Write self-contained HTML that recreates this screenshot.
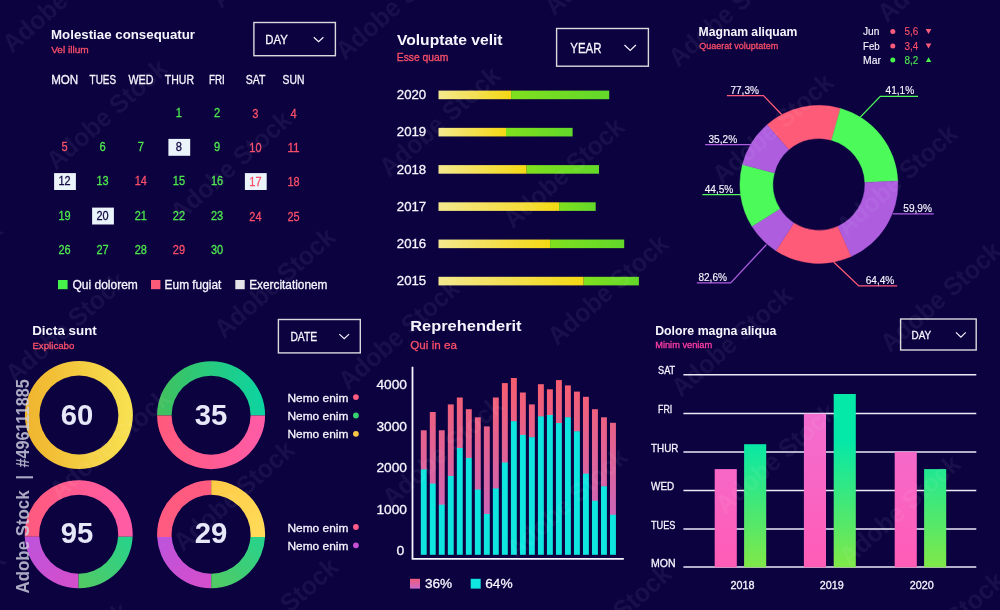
<!DOCTYPE html>
<html lang="en"><head><meta charset="utf-8"><title>Dashboard</title>
<style>
html,body{margin:0;padding:0;background:#0c0240;}
body{width:1000px;height:610px;overflow:hidden;font-family:"Liberation Sans", sans-serif;}
svg{display:block;font-family:"Liberation Sans", sans-serif;}
</style></head><body>
<svg width="1000" height="610" viewBox="0 0 1000 610">
<rect width="1000" height="610" fill="#0c0240"/>

<defs>
<linearGradient id="gy" x1="0" y1="0" x2="1" y2="0"><stop offset="0" stop-color="#f4e88e"/><stop offset="1" stop-color="#f4d814"/></linearGradient>
<linearGradient id="gg" x1="0" y1="0" x2="1" y2="0"><stop offset="0" stop-color="#80e01e"/><stop offset="1" stop-color="#62d82a"/></linearGradient>
<linearGradient id="ring1" x1="0" y1="0" x2="1" y2="0"><stop offset="0" stop-color="#f0b42e"/><stop offset="1" stop-color="#f8e252"/></linearGradient>
<linearGradient id="rgreen" x1="0" y1="0" x2="1" y2="0"><stop offset="0" stop-color="#42c05c"/><stop offset="1" stop-color="#0cd4a2"/></linearGradient>
<linearGradient id="rpink" x1="0" y1="0" x2="1" y2="0"><stop offset="0" stop-color="#ff5a7c"/><stop offset="1" stop-color="#ff5ca8"/></linearGradient>
<linearGradient id="rpurp" x1="0" y1="0.5" x2="0.5" y2="1"><stop offset="0" stop-color="#bb54dc"/><stop offset="1" stop-color="#d64ecb"/></linearGradient>
<linearGradient id="rgreenv" x1="0" y1="1" x2="1" y2="0"><stop offset="0" stop-color="#6cc44c"/><stop offset="1" stop-color="#0cd8a4"/></linearGradient>
<linearGradient id="ryel" x1="0" y1="0" x2="1" y2="1"><stop offset="0" stop-color="#ffc23c"/><stop offset="1" stop-color="#ffe464"/></linearGradient>
<linearGradient id="sbar" gradientUnits="userSpaceOnUse" x1="0" y1="378" x2="0" y2="555"><stop offset="0" stop-color="#f85e6e"/><stop offset="1" stop-color="#c068cc"/></linearGradient>
<linearGradient id="vpink" gradientUnits="userSpaceOnUse" x1="0" y1="413" x2="0" y2="567"><stop offset="0" stop-color="#f26ed0"/><stop offset="1" stop-color="#ff5cb6"/></linearGradient>
<linearGradient id="vgreen" gradientUnits="userSpaceOnUse" x1="0" y1="440" x2="0" y2="567"><stop offset="0" stop-color="#04e8a8"/><stop offset="1" stop-color="#80e848"/></linearGradient>
<linearGradient id="lgpink" x1="0" y1="0" x2="0" y2="1"><stop offset="0" stop-color="#f25c7c"/><stop offset="1" stop-color="#c868c8"/></linearGradient>
</defs>

<text x="51.00" y="38.80" font-size="13.3" fill="#f5f5fd" font-weight="bold" textLength="144.00" lengthAdjust="spacingAndGlyphs">Molestiae consequatur</text>
<text x="51.20" y="53.30" font-size="9.5" fill="#fa4f69" stroke="#fa4f69" stroke-width="0.3" textLength="37.60" lengthAdjust="spacingAndGlyphs">Vel illum</text>
<rect x="253.90" y="22.50" width="81.50" height="33.20" fill="none" stroke="#dcd9de" stroke-width="1.4"/>
<text x="265.30" y="43.60" font-size="12" fill="#f5f5fd" stroke="#f5f5fd" stroke-width="0.3" textLength="22.50" lengthAdjust="spacingAndGlyphs">DAY</text>
<polyline points="313.80,37.20 318.60,41.60 323.40,37.20" fill="none" stroke="#f5f5fd" stroke-width="1.2"/>
<text x="51.20" y="84.20" font-size="12" fill="#f5f5fd" stroke="#f5f5fd" stroke-width="0.3" textLength="27.00" lengthAdjust="spacingAndGlyphs">MON</text>
<text x="89.60" y="84.20" font-size="12" fill="#f5f5fd" stroke="#f5f5fd" stroke-width="0.3" textLength="26.40" lengthAdjust="spacingAndGlyphs">TUES</text>
<text x="128.40" y="84.20" font-size="12" fill="#f5f5fd" stroke="#f5f5fd" stroke-width="0.3" textLength="25.00" lengthAdjust="spacingAndGlyphs">WED</text>
<text x="164.80" y="84.20" font-size="12" fill="#f5f5fd" stroke="#f5f5fd" stroke-width="0.3" textLength="29.20" lengthAdjust="spacingAndGlyphs">THUR</text>
<text x="209.00" y="84.20" font-size="12" fill="#f5f5fd" stroke="#f5f5fd" stroke-width="0.3" textLength="15.80" lengthAdjust="spacingAndGlyphs">FRI</text>
<text x="245.80" y="84.20" font-size="12" fill="#f5f5fd" stroke="#f5f5fd" stroke-width="0.3" textLength="19.60" lengthAdjust="spacingAndGlyphs">SAT</text>
<text x="282.60" y="84.20" font-size="12" fill="#f5f5fd" stroke="#f5f5fd" stroke-width="0.3" textLength="21.80" lengthAdjust="spacingAndGlyphs">SUN</text>
<text x="175.80" y="116.90" font-size="12.4" fill="#4ee84d" stroke="#4ee84d" stroke-width="0.3" textLength="6.20" lengthAdjust="spacingAndGlyphs">1</text>
<text x="213.90" y="116.90" font-size="12.4" fill="#4ee84d" stroke="#4ee84d" stroke-width="0.3" textLength="6.20" lengthAdjust="spacingAndGlyphs">2</text>
<text x="252.30" y="117.90" font-size="12.4" fill="#fa4f69" stroke="#fa4f69" stroke-width="0.3" textLength="6.20" lengthAdjust="spacingAndGlyphs">3</text>
<text x="290.40" y="117.90" font-size="12.4" fill="#fa4f69" stroke="#fa4f69" stroke-width="0.3" textLength="6.20" lengthAdjust="spacingAndGlyphs">4</text>
<text x="61.50" y="151.10" font-size="12.4" fill="#fa4f69" stroke="#fa4f69" stroke-width="0.3" textLength="6.20" lengthAdjust="spacingAndGlyphs">5</text>
<text x="99.50" y="151.10" font-size="12.4" fill="#4ee84d" stroke="#4ee84d" stroke-width="0.3" textLength="6.20" lengthAdjust="spacingAndGlyphs">6</text>
<text x="137.70" y="151.10" font-size="12.4" fill="#4ee84d" stroke="#4ee84d" stroke-width="0.3" textLength="6.20" lengthAdjust="spacingAndGlyphs">7</text>
<rect x="168.40" y="138.90" width="21.80" height="16.90" fill="#ecf4fb" />
<text x="175.80" y="151.10" font-size="12.4" fill="#140a44" stroke="#140a44" stroke-width="0.3" textLength="6.20" lengthAdjust="spacingAndGlyphs">8</text>
<text x="213.90" y="151.10" font-size="12.4" fill="#4ee84d" stroke="#4ee84d" stroke-width="0.3" textLength="6.20" lengthAdjust="spacingAndGlyphs">9</text>
<text x="249.30" y="152.10" font-size="12.4" fill="#fa4f69" stroke="#fa4f69" stroke-width="0.3" textLength="12.20" lengthAdjust="spacingAndGlyphs">10</text>
<text x="287.40" y="152.10" font-size="12.4" fill="#fa4f69" stroke="#fa4f69" stroke-width="0.3" textLength="12.20" lengthAdjust="spacingAndGlyphs">11</text>
<rect x="54.10" y="173.10" width="21.80" height="16.90" fill="#ecf4fb" />
<text x="58.50" y="185.30" font-size="12.4" fill="#140a44" stroke="#140a44" stroke-width="0.3" textLength="12.20" lengthAdjust="spacingAndGlyphs">12</text>
<text x="96.50" y="185.30" font-size="12.4" fill="#4ee84d" stroke="#4ee84d" stroke-width="0.3" textLength="12.20" lengthAdjust="spacingAndGlyphs">13</text>
<text x="134.70" y="185.30" font-size="12.4" fill="#fa4f69" stroke="#fa4f69" stroke-width="0.3" textLength="12.20" lengthAdjust="spacingAndGlyphs">14</text>
<text x="172.80" y="185.30" font-size="12.4" fill="#4ee84d" stroke="#4ee84d" stroke-width="0.3" textLength="12.20" lengthAdjust="spacingAndGlyphs">15</text>
<text x="210.90" y="185.30" font-size="12.4" fill="#4ee84d" stroke="#4ee84d" stroke-width="0.3" textLength="12.20" lengthAdjust="spacingAndGlyphs">16</text>
<rect x="244.90" y="173.10" width="21.80" height="16.90" fill="#ecf4fb" />
<text x="249.30" y="186.30" font-size="12.4" fill="#fa4f69" stroke="#fa4f69" stroke-width="0.3" textLength="12.20" lengthAdjust="spacingAndGlyphs">17</text>
<text x="287.40" y="186.30" font-size="12.4" fill="#fa4f69" stroke="#fa4f69" stroke-width="0.3" textLength="12.20" lengthAdjust="spacingAndGlyphs">18</text>
<text x="58.50" y="219.80" font-size="12.4" fill="#4ee84d" stroke="#4ee84d" stroke-width="0.3" textLength="12.20" lengthAdjust="spacingAndGlyphs">19</text>
<rect x="92.10" y="207.60" width="21.80" height="16.90" fill="#ecf4fb" />
<text x="96.50" y="219.80" font-size="12.4" fill="#140a44" stroke="#140a44" stroke-width="0.3" textLength="12.20" lengthAdjust="spacingAndGlyphs">20</text>
<text x="134.70" y="219.80" font-size="12.4" fill="#4ee84d" stroke="#4ee84d" stroke-width="0.3" textLength="12.20" lengthAdjust="spacingAndGlyphs">21</text>
<text x="172.80" y="219.80" font-size="12.4" fill="#4ee84d" stroke="#4ee84d" stroke-width="0.3" textLength="12.20" lengthAdjust="spacingAndGlyphs">22</text>
<text x="210.90" y="219.80" font-size="12.4" fill="#4ee84d" stroke="#4ee84d" stroke-width="0.3" textLength="12.20" lengthAdjust="spacingAndGlyphs">23</text>
<text x="249.30" y="220.80" font-size="12.4" fill="#fa4f69" stroke="#fa4f69" stroke-width="0.3" textLength="12.20" lengthAdjust="spacingAndGlyphs">24</text>
<text x="287.40" y="220.80" font-size="12.4" fill="#fa4f69" stroke="#fa4f69" stroke-width="0.3" textLength="12.20" lengthAdjust="spacingAndGlyphs">25</text>
<text x="58.50" y="254.00" font-size="12.4" fill="#4ee84d" stroke="#4ee84d" stroke-width="0.3" textLength="12.20" lengthAdjust="spacingAndGlyphs">26</text>
<text x="96.50" y="254.00" font-size="12.4" fill="#4ee84d" stroke="#4ee84d" stroke-width="0.3" textLength="12.20" lengthAdjust="spacingAndGlyphs">27</text>
<text x="134.70" y="254.00" font-size="12.4" fill="#4ee84d" stroke="#4ee84d" stroke-width="0.3" textLength="12.20" lengthAdjust="spacingAndGlyphs">28</text>
<text x="172.80" y="254.00" font-size="12.4" fill="#fa4f69" stroke="#fa4f69" stroke-width="0.3" textLength="12.20" lengthAdjust="spacingAndGlyphs">29</text>
<text x="210.90" y="254.00" font-size="12.4" fill="#4ee84d" stroke="#4ee84d" stroke-width="0.3" textLength="12.20" lengthAdjust="spacingAndGlyphs">30</text>
<rect x="58.00" y="280.00" width="9.60" height="9.20" fill="#46f14a" />
<text x="72.40" y="289.00" font-size="12.2" fill="#f5f5fd" stroke="#f5f5fd" stroke-width="0.3" textLength="65.50" lengthAdjust="spacingAndGlyphs">Qui dolorem</text>
<rect x="151.00" y="280.00" width="9.40" height="9.20" fill="#fb5a78" />
<text x="164.60" y="289.00" font-size="12.2" fill="#f5f5fd" stroke="#f5f5fd" stroke-width="0.3" textLength="56.80" lengthAdjust="spacingAndGlyphs">Eum fugiat</text>
<rect x="235.30" y="280.00" width="9.40" height="9.20" fill="#e4e4e8" />
<text x="249.20" y="289.00" font-size="12.2" fill="#f5f5fd" stroke="#f5f5fd" stroke-width="0.3" textLength="78.20" lengthAdjust="spacingAndGlyphs">Exercitationem</text>
<text x="397.00" y="45.00" font-size="14.8" fill="#f5f5fd" font-weight="bold" textLength="105.50" lengthAdjust="spacingAndGlyphs">Voluptate velit</text>
<text x="396.80" y="61.00" font-size="10.3" fill="#fa4f69" stroke="#fa4f69" stroke-width="0.3" textLength="51.60" lengthAdjust="spacingAndGlyphs">Esse quam</text>
<rect x="556.60" y="28.50" width="91.80" height="37.70" fill="none" stroke="#dcd9de" stroke-width="1.4"/>
<text x="570.30" y="52.80" font-size="14" fill="#f5f5fd" stroke="#f5f5fd" stroke-width="0.3" textLength="31.20" lengthAdjust="spacingAndGlyphs">YEAR</text>
<polyline points="624.50,45.00 630.20,50.40 635.90,45.00" fill="none" stroke="#f5f5fd" stroke-width="1.2"/>
<text x="396.80" y="99.10" font-size="13.6" fill="#f5f5fd" stroke="#f5f5fd" stroke-width="0.3" textLength="29.40" lengthAdjust="spacingAndGlyphs">2020</text>
<rect x="438.50" y="90.60" width="72.60" height="8.60" fill="url(#gy)" />
<rect x="511.10" y="90.60" width="98.10" height="8.60" fill="url(#gg)" />
<text x="396.80" y="136.35" font-size="13.6" fill="#f5f5fd" stroke="#f5f5fd" stroke-width="0.3" textLength="29.40" lengthAdjust="spacingAndGlyphs">2019</text>
<rect x="438.50" y="127.85" width="67.50" height="8.60" fill="url(#gy)" />
<rect x="506.00" y="127.85" width="66.60" height="8.60" fill="url(#gg)" />
<text x="396.80" y="173.60" font-size="13.6" fill="#f5f5fd" stroke="#f5f5fd" stroke-width="0.3" textLength="29.40" lengthAdjust="spacingAndGlyphs">2018</text>
<rect x="438.50" y="165.10" width="88.20" height="8.60" fill="url(#gy)" />
<rect x="526.70" y="165.10" width="72.30" height="8.60" fill="url(#gg)" />
<text x="396.80" y="210.80" font-size="13.6" fill="#f5f5fd" stroke="#f5f5fd" stroke-width="0.3" textLength="29.40" lengthAdjust="spacingAndGlyphs">2017</text>
<rect x="438.50" y="202.30" width="120.60" height="8.60" fill="url(#gy)" />
<rect x="559.10" y="202.30" width="36.60" height="8.60" fill="url(#gg)" />
<text x="396.80" y="248.05" font-size="13.6" fill="#f5f5fd" stroke="#f5f5fd" stroke-width="0.3" textLength="29.40" lengthAdjust="spacingAndGlyphs">2016</text>
<rect x="438.50" y="239.55" width="111.60" height="8.60" fill="url(#gy)" />
<rect x="550.10" y="239.55" width="74.10" height="8.60" fill="url(#gg)" />
<text x="396.80" y="285.30" font-size="13.6" fill="#f5f5fd" stroke="#f5f5fd" stroke-width="0.3" textLength="29.40" lengthAdjust="spacingAndGlyphs">2015</text>
<rect x="438.50" y="276.80" width="145.20" height="8.60" fill="url(#gy)" />
<rect x="583.70" y="276.80" width="55.20" height="8.60" fill="url(#gg)" />
<text x="698.60" y="36.40" font-size="12.4" fill="#f5f5fd" font-weight="bold" textLength="98.80" lengthAdjust="spacingAndGlyphs">Magnam aliquam</text>
<text x="699.20" y="48.90" font-size="9.7" fill="#fa4f69" stroke="#fa4f69" stroke-width="0.3" textLength="79.00" lengthAdjust="spacingAndGlyphs">Quaerat voluptatem</text>
<text x="863.00" y="35.30" font-size="10.8" fill="#f5f5fd" stroke="#f5f5fd" stroke-width="0.15" textLength="16.40" lengthAdjust="spacingAndGlyphs">Jun</text>
<circle cx="892.8" cy="31.50" r="2.5" fill="#ff5c7c"/>
<text x="904.50" y="35.30" font-size="10.8" fill="#fa4f69" stroke="#fa4f69" stroke-width="0.15" textLength="13.80" lengthAdjust="spacingAndGlyphs">5,6</text>
<polygon points="925.7,29.00 931.3,29.00 928.5,34.00" fill="#ff5c7c"/>
<text x="863.00" y="49.70" font-size="10.8" fill="#f5f5fd" stroke="#f5f5fd" stroke-width="0.15" textLength="16.60" lengthAdjust="spacingAndGlyphs">Feb</text>
<circle cx="892.8" cy="45.90" r="2.5" fill="#ff5c7c"/>
<text x="904.50" y="49.70" font-size="10.8" fill="#fa4f69" stroke="#fa4f69" stroke-width="0.15" textLength="13.80" lengthAdjust="spacingAndGlyphs">3,4</text>
<polygon points="925.7,43.40 931.3,43.40 928.5,48.40" fill="#ff5c7c"/>
<text x="863.00" y="63.70" font-size="10.8" fill="#f5f5fd" stroke="#f5f5fd" stroke-width="0.15" textLength="17.90" lengthAdjust="spacingAndGlyphs">Mar</text>
<circle cx="892.8" cy="59.90" r="2.5" fill="#46f14a"/>
<text x="904.50" y="63.70" font-size="10.8" fill="#4ee84d" stroke="#4ee84d" stroke-width="0.15" textLength="13.80" lengthAdjust="spacingAndGlyphs">8,2</text>
<polygon points="925.9,61.90 931.3,61.90 928.6,57.30" fill="#46f14a"/>
<path d="M767.07,124.78 A79,79 0 0 1 840.54,108.42 L831.50,140.16 A46,46 0 0 0 788.72,149.68 Z" fill="#fe5b78" stroke="#fe5b78" stroke-width="0.4"/>
<path d="M840.54,108.42 A79,79 0 0 1 897.82,180.95 L864.86,182.39 A46,46 0 0 0 831.50,140.16 Z" fill="#4cfb5a" stroke="#4cfb5a" stroke-width="0.4"/>
<path d="M897.82,180.95 A79,79 0 0 1 851.03,256.57 L837.61,226.42 A46,46 0 0 0 864.86,182.39 Z" fill="#ae5ddf" stroke="#ae5ddf" stroke-width="0.4"/>
<path d="M851.03,256.57 A79,79 0 0 1 775.87,250.65 L793.85,222.98 A46,46 0 0 0 837.61,226.42 Z" fill="#fe5b78" stroke="#fe5b78" stroke-width="0.4"/>
<path d="M775.87,250.65 A79,79 0 0 1 751.90,226.26 L779.89,208.78 A46,46 0 0 0 793.85,222.98 Z" fill="#ae5ddf" stroke="#ae5ddf" stroke-width="0.4"/>
<path d="M751.90,226.26 A79,79 0 0 1 742.42,164.62 L774.37,172.88 A46,46 0 0 0 779.89,208.78 Z" fill="#4cfb5a" stroke="#4cfb5a" stroke-width="0.4"/>
<path d="M742.42,164.62 A79,79 0 0 1 767.07,124.78 L788.72,149.68 A46,46 0 0 0 774.37,172.88 Z" fill="#ae5ddf" stroke="#ae5ddf" stroke-width="0.4"/>
<polyline points="726.90,95.60 763.50,95.60 781.60,114.50" fill="none" stroke="#fe5b78" stroke-width="1.3"/>
<polyline points="918.00,96.40 880.30,96.40 860.30,117.10" fill="none" stroke="#4cfb5a" stroke-width="1.3"/>
<polyline points="705.10,144.60 755.90,144.60" fill="none" stroke="#ae5ddf" stroke-width="1.3"/>
<polyline points="702.40,194.70 740.90,194.70" fill="none" stroke="#4cfb5a" stroke-width="1.3"/>
<polyline points="892.70,213.90 933.80,213.90" fill="none" stroke="#ae5ddf" stroke-width="1.3"/>
<polyline points="897.20,285.90 858.80,285.90 833.90,262.20" fill="none" stroke="#fe5b78" stroke-width="1.3"/>
<polyline points="696.80,282.90 730.70,282.90 766.50,244.50" fill="none" stroke="#ae5ddf" stroke-width="1.3"/>
<text x="730.40" y="94.10" font-size="10.6" fill="#f5f5fd" stroke="#f5f5fd" stroke-width="0.15" textLength="28.60" lengthAdjust="spacingAndGlyphs">77,3%</text>
<text x="885.60" y="94.10" font-size="10.6" fill="#f5f5fd" stroke="#f5f5fd" stroke-width="0.15" textLength="28.60" lengthAdjust="spacingAndGlyphs">41,1%</text>
<text x="708.50" y="143.00" font-size="10.6" fill="#f5f5fd" stroke="#f5f5fd" stroke-width="0.15" textLength="28.60" lengthAdjust="spacingAndGlyphs">35,2%</text>
<text x="704.70" y="193.20" font-size="10.6" fill="#f5f5fd" stroke="#f5f5fd" stroke-width="0.15" textLength="28.60" lengthAdjust="spacingAndGlyphs">44,5%</text>
<text x="903.30" y="212.00" font-size="10.6" fill="#f5f5fd" stroke="#f5f5fd" stroke-width="0.15" textLength="28.60" lengthAdjust="spacingAndGlyphs">59,9%</text>
<text x="865.70" y="284.20" font-size="10.6" fill="#f5f5fd" stroke="#f5f5fd" stroke-width="0.15" textLength="28.60" lengthAdjust="spacingAndGlyphs">64,4%</text>
<text x="698.40" y="281.00" font-size="10.6" fill="#f5f5fd" stroke="#f5f5fd" stroke-width="0.15" textLength="28.60" lengthAdjust="spacingAndGlyphs">82,6%</text>
<text x="32.20" y="335.00" font-size="13.2" fill="#f5f5fd" font-weight="bold" textLength="64.60" lengthAdjust="spacingAndGlyphs">Dicta sunt</text>
<text x="32.40" y="349.30" font-size="9.7" fill="#fa4f69" stroke="#fa4f69" stroke-width="0.3" textLength="42.00" lengthAdjust="spacingAndGlyphs">Explicabo</text>
<rect x="278.40" y="319.50" width="81.90" height="33.40" fill="none" stroke="#dcd9de" stroke-width="1.4"/>
<text x="290.40" y="341.00" font-size="12" fill="#f5f5fd" stroke="#f5f5fd" stroke-width="0.3" textLength="26.80" lengthAdjust="spacingAndGlyphs">DATE</text>
<polyline points="339.30,334.10 344.20,338.70 349.10,334.10" fill="none" stroke="#f5f5fd" stroke-width="1.2"/>
<path d="M24.900000000000006,415 a54,54 0 1 0 108,0 a54,54 0 1 0 -108,0 Z M39.400000000000006,415 a39.5,39.5 0 1 1 79,0 a39.5,39.5 0 1 1 -79,0 Z" fill="url(#ring1)" fill-rule="evenodd"/>
<clipPath id="c2a"><rect x="150" y="355" width="125" height="60.6"/></clipPath><clipPath id="c2b"><rect x="150" y="415.6" width="125" height="60"/></clipPath>
<path d="M157.1,415.2 a54,54 0 1 0 108,0 a54,54 0 1 0 -108,0 Z M171.6,415.2 a39.5,39.5 0 1 1 79,0 a39.5,39.5 0 1 1 -79,0 Z" fill="url(#rgreen)" fill-rule="evenodd" clip-path="url(#c2a)"/>
<path d="M157.1,415.2 a54,54 0 1 0 108,0 a54,54 0 1 0 -108,0 Z M171.6,415.2 a39.5,39.5 0 1 1 79,0 a39.5,39.5 0 1 1 -79,0 Z" fill="url(#rpink)" fill-rule="evenodd" clip-path="url(#c2b)"/>
<clipPath id="c3a"><rect x="20" y="475" width="120" height="61.7"/></clipPath><clipPath id="c3b"><rect x="20" y="536.7" width="58.5" height="60"/></clipPath><clipPath id="c3c"><rect x="78.5" y="536.7" width="60" height="60"/></clipPath>
<path d="M24.700000000000003,534.3 a54,54 0 1 0 108,0 a54,54 0 1 0 -108,0 Z M39.2,534.3 a39.5,39.5 0 1 1 79,0 a39.5,39.5 0 1 1 -79,0 Z" fill="url(#rpink)" fill-rule="evenodd" clip-path="url(#c3a)"/>
<path d="M24.700000000000003,534.3 a54,54 0 1 0 108,0 a54,54 0 1 0 -108,0 Z M39.2,534.3 a39.5,39.5 0 1 1 79,0 a39.5,39.5 0 1 1 -79,0 Z" fill="url(#rpurp)" fill-rule="evenodd" clip-path="url(#c3b)"/>
<path d="M24.700000000000003,534.3 a54,54 0 1 0 108,0 a54,54 0 1 0 -108,0 Z M39.2,534.3 a39.5,39.5 0 1 1 79,0 a39.5,39.5 0 1 1 -79,0 Z" fill="url(#rgreenv)" fill-rule="evenodd" clip-path="url(#c3c)"/>
<clipPath id="c4a"><rect x="150" y="475" width="61.2" height="62"/></clipPath><clipPath id="c4b"><rect x="211.2" y="475" width="60" height="62"/></clipPath><clipPath id="c4c"><rect x="150" y="537" width="61.2" height="60"/></clipPath><clipPath id="c4d"><rect x="211.2" y="537" width="60" height="60"/></clipPath>
<path d="M157.1,534.3 a54,54 0 1 0 108,0 a54,54 0 1 0 -108,0 Z M171.6,534.3 a39.5,39.5 0 1 1 79,0 a39.5,39.5 0 1 1 -79,0 Z" fill="#ff5a80" fill-rule="evenodd" clip-path="url(#c4a)"/>
<path d="M157.1,534.3 a54,54 0 1 0 108,0 a54,54 0 1 0 -108,0 Z M171.6,534.3 a39.5,39.5 0 1 1 79,0 a39.5,39.5 0 1 1 -79,0 Z" fill="url(#ryel)" fill-rule="evenodd" clip-path="url(#c4b)"/>
<path d="M157.1,534.3 a54,54 0 1 0 108,0 a54,54 0 1 0 -108,0 Z M171.6,534.3 a39.5,39.5 0 1 1 79,0 a39.5,39.5 0 1 1 -79,0 Z" fill="url(#rpurp)" fill-rule="evenodd" clip-path="url(#c4c)"/>
<path d="M157.1,534.3 a54,54 0 1 0 108,0 a54,54 0 1 0 -108,0 Z M171.6,534.3 a39.5,39.5 0 1 1 79,0 a39.5,39.5 0 1 1 -79,0 Z" fill="url(#rgreenv)" fill-rule="evenodd" clip-path="url(#c4d)"/>
<text x="60.80" y="424.90" font-size="30.0" fill="#e6e8f8" font-weight="bold" textLength="32.60" lengthAdjust="spacingAndGlyphs">60</text>
<text x="194.80" y="424.80" font-size="30.0" fill="#e6e8f8" font-weight="bold" textLength="32.60" lengthAdjust="spacingAndGlyphs">35</text>
<text x="60.80" y="543.10" font-size="30.0" fill="#e6e8f8" font-weight="bold" textLength="32.60" lengthAdjust="spacingAndGlyphs">95</text>
<text x="194.80" y="543.10" font-size="30.0" fill="#e6e8f8" font-weight="bold" textLength="32.60" lengthAdjust="spacingAndGlyphs">29</text>
<text x="287.40" y="401.70" font-size="11.6" fill="#f5f5fd" stroke="#f5f5fd" stroke-width="0.3" textLength="61.00" lengthAdjust="spacingAndGlyphs">Nemo enim</text>
<circle cx="355.9" cy="397.10" r="2.9" fill="#ff5c80"/>
<text x="287.40" y="420.10" font-size="11.6" fill="#f5f5fd" stroke="#f5f5fd" stroke-width="0.3" textLength="61.00" lengthAdjust="spacingAndGlyphs">Nemo enim</text>
<circle cx="355.9" cy="415.50" r="2.9" fill="#38d070"/>
<text x="287.40" y="438.40" font-size="11.6" fill="#f5f5fd" stroke="#f5f5fd" stroke-width="0.3" textLength="61.00" lengthAdjust="spacingAndGlyphs">Nemo enim</text>
<circle cx="355.9" cy="433.80" r="2.9" fill="#f6c844"/>
<text x="287.40" y="531.60" font-size="11.6" fill="#f5f5fd" stroke="#f5f5fd" stroke-width="0.3" textLength="61.00" lengthAdjust="spacingAndGlyphs">Nemo enim</text>
<circle cx="355.9" cy="527.00" r="2.9" fill="#ff5c88"/>
<text x="287.40" y="549.90" font-size="11.6" fill="#f5f5fd" stroke="#f5f5fd" stroke-width="0.3" textLength="61.00" lengthAdjust="spacingAndGlyphs">Nemo enim</text>
<circle cx="355.9" cy="545.30" r="2.9" fill="#c850d2"/>
<text x="410.20" y="331.30" font-size="15.4" fill="#f5f5fd" font-weight="bold" textLength="111.40" lengthAdjust="spacingAndGlyphs">Reprehenderit</text>
<text x="410.30" y="348.70" font-size="11.5" fill="#fa4f69" stroke="#fa4f69" stroke-width="0.3" textLength="46.60" lengthAdjust="spacingAndGlyphs">Qui in ea</text>
<rect x="420.80" y="430.30" width="5.90" height="39.60" fill="url(#sbar)" />
<rect x="420.80" y="469.40" width="5.90" height="85.40" fill="#0fe6e0" />
<rect x="429.81" y="412.00" width="5.90" height="72.10" fill="url(#sbar)" />
<rect x="429.81" y="483.60" width="5.90" height="71.20" fill="#0fe6e0" />
<rect x="438.82" y="430.30" width="5.90" height="74.90" fill="url(#sbar)" />
<rect x="438.82" y="504.70" width="5.90" height="50.10" fill="#0fe6e0" />
<rect x="447.83" y="404.40" width="5.90" height="72.10" fill="url(#sbar)" />
<rect x="447.83" y="476.00" width="5.90" height="78.80" fill="#0fe6e0" />
<rect x="456.84" y="397.50" width="5.90" height="51.00" fill="url(#sbar)" />
<rect x="456.84" y="448.00" width="5.90" height="106.80" fill="#0fe6e0" />
<rect x="465.85" y="409.20" width="5.90" height="49.20" fill="url(#sbar)" />
<rect x="465.85" y="457.90" width="5.90" height="96.90" fill="#0fe6e0" />
<rect x="474.86" y="417.30" width="5.90" height="72.70" fill="url(#sbar)" />
<rect x="474.86" y="489.50" width="5.90" height="65.30" fill="#0fe6e0" />
<rect x="483.87" y="426.40" width="5.90" height="88.10" fill="url(#sbar)" />
<rect x="483.87" y="514.00" width="5.90" height="40.80" fill="#0fe6e0" />
<rect x="492.88" y="397.50" width="5.90" height="91.40" fill="url(#sbar)" />
<rect x="492.88" y="488.40" width="5.90" height="66.40" fill="#0fe6e0" />
<rect x="501.89" y="383.10" width="5.90" height="79.90" fill="url(#sbar)" />
<rect x="501.89" y="462.50" width="5.90" height="92.30" fill="#0fe6e0" />
<rect x="510.90" y="378.00" width="5.90" height="43.70" fill="url(#sbar)" />
<rect x="510.90" y="421.20" width="5.90" height="133.60" fill="#0fe6e0" />
<rect x="519.91" y="392.50" width="5.90" height="42.90" fill="url(#sbar)" />
<rect x="519.91" y="434.90" width="5.90" height="119.90" fill="#0fe6e0" />
<rect x="528.92" y="404.40" width="5.90" height="33.30" fill="url(#sbar)" />
<rect x="528.92" y="437.20" width="5.90" height="117.60" fill="#0fe6e0" />
<rect x="537.93" y="384.20" width="5.90" height="32.70" fill="url(#sbar)" />
<rect x="537.93" y="416.40" width="5.90" height="138.40" fill="#0fe6e0" />
<rect x="546.94" y="389.30" width="5.90" height="26.20" fill="url(#sbar)" />
<rect x="546.94" y="415.00" width="5.90" height="139.80" fill="#0fe6e0" />
<rect x="555.95" y="380.10" width="5.90" height="43.40" fill="url(#sbar)" />
<rect x="555.95" y="423.00" width="5.90" height="131.80" fill="#0fe6e0" />
<rect x="564.96" y="385.40" width="5.90" height="32.40" fill="url(#sbar)" />
<rect x="564.96" y="417.30" width="5.90" height="137.50" fill="#0fe6e0" />
<rect x="573.97" y="391.60" width="5.90" height="40.20" fill="url(#sbar)" />
<rect x="573.97" y="431.30" width="5.90" height="123.50" fill="#0fe6e0" />
<rect x="582.98" y="396.80" width="5.90" height="77.40" fill="url(#sbar)" />
<rect x="582.98" y="473.70" width="5.90" height="81.10" fill="#0fe6e0" />
<rect x="591.99" y="409.20" width="5.90" height="92.10" fill="url(#sbar)" />
<rect x="591.99" y="500.80" width="5.90" height="54.00" fill="#0fe6e0" />
<rect x="601.00" y="417.30" width="5.90" height="69.50" fill="url(#sbar)" />
<rect x="601.00" y="486.30" width="5.90" height="68.50" fill="#0fe6e0" />
<rect x="610.01" y="422.80" width="5.90" height="92.50" fill="url(#sbar)" />
<rect x="610.01" y="514.80" width="5.90" height="40.00" fill="#0fe6e0" />
<polyline points="412.5,366.7 412.5,558.8 623.8,558.8" fill="none" stroke="#f5f5fd" stroke-width="1.8"/>
<text x="376.40" y="388.90" font-size="13" fill="#f5f5fd" stroke="#f5f5fd" stroke-width="0.3" textLength="30.60" lengthAdjust="spacingAndGlyphs">4000</text>
<text x="376.40" y="430.80" font-size="13" fill="#f5f5fd" stroke="#f5f5fd" stroke-width="0.3" textLength="30.60" lengthAdjust="spacingAndGlyphs">3000</text>
<text x="376.40" y="472.10" font-size="13" fill="#f5f5fd" stroke="#f5f5fd" stroke-width="0.3" textLength="30.60" lengthAdjust="spacingAndGlyphs">2000</text>
<text x="376.40" y="514.00" font-size="13" fill="#f5f5fd" stroke="#f5f5fd" stroke-width="0.3" textLength="30.60" lengthAdjust="spacingAndGlyphs">1000</text>
<text x="396.60" y="555.30" font-size="13" fill="#f5f5fd" stroke="#f5f5fd" stroke-width="0.3" textLength="7.80" lengthAdjust="spacingAndGlyphs">0</text>
<rect x="410.00" y="578.80" width="10.00" height="9.80" fill="url(#lgpink)" />
<text x="425.00" y="588.00" font-size="13.6" fill="#f5f5fd" stroke="#f5f5fd" stroke-width="0.3" textLength="27.20" lengthAdjust="spacingAndGlyphs">36%</text>
<rect x="470.70" y="578.80" width="10.00" height="9.80" fill="#0fe6e0" />
<text x="485.20" y="588.00" font-size="13.6" fill="#f5f5fd" stroke="#f5f5fd" stroke-width="0.3" textLength="27.40" lengthAdjust="spacingAndGlyphs">64%</text>
<text x="655.20" y="334.50" font-size="12.2" fill="#f5f5fd" font-weight="bold" textLength="121.20" lengthAdjust="spacingAndGlyphs">Dolore magna aliqua</text>
<text x="655.20" y="347.70" font-size="9.4" fill="#ff3fa4" stroke="#ff3fa4" stroke-width="0.3" textLength="57.00" lengthAdjust="spacingAndGlyphs">Minim veniam</text>
<rect x="900.60" y="319.00" width="75.60" height="31.00" fill="none" stroke="#dcd9de" stroke-width="1.4"/>
<text x="911.60" y="339.20" font-size="11" fill="#f5f5fd" stroke="#f5f5fd" stroke-width="0.3" textLength="19.60" lengthAdjust="spacingAndGlyphs">DAY</text>
<polyline points="956.00,332.40 960.90,337.20 965.80,332.40" fill="none" stroke="#f5f5fd" stroke-width="1.2"/>
<line x1="683.4" y1="374.7" x2="976.3" y2="374.7" stroke="#eaeaf8" stroke-width="1.5"/>
<line x1="683.4" y1="413.5" x2="976.3" y2="413.5" stroke="#eaeaf8" stroke-width="1.5"/>
<line x1="683.4" y1="451.9" x2="976.3" y2="451.9" stroke="#eaeaf8" stroke-width="1.5"/>
<line x1="683.4" y1="490.4" x2="976.3" y2="490.4" stroke="#eaeaf8" stroke-width="1.5"/>
<line x1="683.4" y1="529" x2="976.3" y2="529" stroke="#eaeaf8" stroke-width="1.5"/>
<line x1="683.4" y1="567.1" x2="976.3" y2="567.1" stroke="#eaeaf8" stroke-width="1.5"/>
<text x="658.00" y="374.30" font-size="11.2" fill="#f5f5fd" stroke="#f5f5fd" stroke-width="0.3" textLength="17.20" lengthAdjust="spacingAndGlyphs">SAT</text>
<text x="658.00" y="412.80" font-size="11.2" fill="#f5f5fd" stroke="#f5f5fd" stroke-width="0.3" textLength="14.20" lengthAdjust="spacingAndGlyphs">FRI</text>
<text x="651.00" y="451.80" font-size="11.2" fill="#f5f5fd" stroke="#f5f5fd" stroke-width="0.3" textLength="27.40" lengthAdjust="spacingAndGlyphs">THUR</text>
<text x="651.00" y="490.40" font-size="11.2" fill="#f5f5fd" stroke="#f5f5fd" stroke-width="0.3" textLength="23.20" lengthAdjust="spacingAndGlyphs">WED</text>
<text x="651.00" y="529.20" font-size="11.2" fill="#f5f5fd" stroke="#f5f5fd" stroke-width="0.3" textLength="24.40" lengthAdjust="spacingAndGlyphs">TUES</text>
<text x="651.00" y="567.40" font-size="11.2" fill="#f5f5fd" stroke="#f5f5fd" stroke-width="0.3" textLength="24.60" lengthAdjust="spacingAndGlyphs">MON</text>
<rect x="714.70" y="469.10" width="22.10" height="98.20" fill="url(#vpink)" />
<rect x="744.10" y="444.20" width="22.10" height="123.10" fill="url(#vgreen)" />
<rect x="803.90" y="413.70" width="22.10" height="153.60" fill="url(#vpink)" />
<rect x="833.70" y="394.00" width="22.10" height="173.30" fill="url(#vgreen)" />
<rect x="894.70" y="451.80" width="22.10" height="115.50" fill="url(#vpink)" />
<rect x="924.10" y="469.10" width="22.10" height="98.20" fill="url(#vgreen)" />
<text x="730.50" y="589.20" font-size="11.2" fill="#f5f5fd" stroke="#f5f5fd" stroke-width="0.3" textLength="24.00" lengthAdjust="spacingAndGlyphs">2018</text>
<text x="819.80" y="589.20" font-size="11.2" fill="#f5f5fd" stroke="#f5f5fd" stroke-width="0.3" textLength="24.00" lengthAdjust="spacingAndGlyphs">2019</text>
<text x="909.80" y="589.20" font-size="11.2" fill="#f5f5fd" stroke="#f5f5fd" stroke-width="0.3" textLength="24.00" lengthAdjust="spacingAndGlyphs">2020</text>
<g font-size="26" font-weight="bold" fill="#ffffff" fill-opacity="0.055">
<text transform="translate(-153.0,215.5) rotate(-41.5)" textLength="151" lengthAdjust="spacingAndGlyphs">Adobe Stock</text>
<text transform="translate(12.0,54.0) rotate(-41.5)" textLength="151" lengthAdjust="spacingAndGlyphs">Adobe Stock</text>
<text transform="translate(-150.0,545.5) rotate(-41.5)" textLength="151" lengthAdjust="spacingAndGlyphs">Adobe Stock</text>
<text transform="translate(15.0,384.0) rotate(-41.5)" textLength="151" lengthAdjust="spacingAndGlyphs">Adobe Stock</text>
<text transform="translate(180.0,222.5) rotate(-41.5)" textLength="151" lengthAdjust="spacingAndGlyphs">Adobe Stock</text>
<text transform="translate(345.0,61.0) rotate(-41.5)" textLength="151" lengthAdjust="spacingAndGlyphs">Adobe Stock</text>
<text transform="translate(18.0,714.0) rotate(-41.5)" textLength="151" lengthAdjust="spacingAndGlyphs">Adobe Stock</text>
<text transform="translate(183.0,552.5) rotate(-41.5)" textLength="151" lengthAdjust="spacingAndGlyphs">Adobe Stock</text>
<text transform="translate(348.0,391.0) rotate(-41.5)" textLength="151" lengthAdjust="spacingAndGlyphs">Adobe Stock</text>
<text transform="translate(513.0,229.5) rotate(-41.5)" textLength="151" lengthAdjust="spacingAndGlyphs">Adobe Stock</text>
<text transform="translate(678.0,68.0) rotate(-41.5)" textLength="151" lengthAdjust="spacingAndGlyphs">Adobe Stock</text>
<text transform="translate(351.0,721.0) rotate(-41.5)" textLength="151" lengthAdjust="spacingAndGlyphs">Adobe Stock</text>
<text transform="translate(516.0,559.5) rotate(-41.5)" textLength="151" lengthAdjust="spacingAndGlyphs">Adobe Stock</text>
<text transform="translate(681.0,398.0) rotate(-41.5)" textLength="151" lengthAdjust="spacingAndGlyphs">Adobe Stock</text>
<text transform="translate(846.0,236.5) rotate(-41.5)" textLength="151" lengthAdjust="spacingAndGlyphs">Adobe Stock</text>
<text transform="translate(684.0,728.0) rotate(-41.5)" textLength="151" lengthAdjust="spacingAndGlyphs">Adobe Stock</text>
<text transform="translate(849.0,566.5) rotate(-41.5)" textLength="151" lengthAdjust="spacingAndGlyphs">Adobe Stock</text>
<text transform="translate(-112.0,2.5) rotate(-41.5)" textLength="151" lengthAdjust="spacingAndGlyphs">Adobe Stock</text>
<text transform="translate(-109.0,332.5) rotate(-41.5)" textLength="151" lengthAdjust="spacingAndGlyphs">Adobe Stock</text>
<text transform="translate(56.0,171.0) rotate(-41.5)" textLength="151" lengthAdjust="spacingAndGlyphs">Adobe Stock</text>
<text transform="translate(221.0,9.5) rotate(-41.5)" textLength="151" lengthAdjust="spacingAndGlyphs">Adobe Stock</text>
<text transform="translate(-106.0,662.5) rotate(-41.5)" textLength="151" lengthAdjust="spacingAndGlyphs">Adobe Stock</text>
<text transform="translate(59.0,501.0) rotate(-41.5)" textLength="151" lengthAdjust="spacingAndGlyphs">Adobe Stock</text>
<text transform="translate(224.0,339.5) rotate(-41.5)" textLength="151" lengthAdjust="spacingAndGlyphs">Adobe Stock</text>
<text transform="translate(389.0,178.0) rotate(-41.5)" textLength="151" lengthAdjust="spacingAndGlyphs">Adobe Stock</text>
<text transform="translate(554.0,16.5) rotate(-41.5)" textLength="151" lengthAdjust="spacingAndGlyphs">Adobe Stock</text>
<text transform="translate(227.0,669.5) rotate(-41.5)" textLength="151" lengthAdjust="spacingAndGlyphs">Adobe Stock</text>
<text transform="translate(392.0,508.0) rotate(-41.5)" textLength="151" lengthAdjust="spacingAndGlyphs">Adobe Stock</text>
<text transform="translate(557.0,346.5) rotate(-41.5)" textLength="151" lengthAdjust="spacingAndGlyphs">Adobe Stock</text>
<text transform="translate(722.0,185.0) rotate(-41.5)" textLength="151" lengthAdjust="spacingAndGlyphs">Adobe Stock</text>
<text transform="translate(887.0,23.5) rotate(-41.5)" textLength="151" lengthAdjust="spacingAndGlyphs">Adobe Stock</text>
<text transform="translate(560.0,676.5) rotate(-41.5)" textLength="151" lengthAdjust="spacingAndGlyphs">Adobe Stock</text>
<text transform="translate(725.0,515.0) rotate(-41.5)" textLength="151" lengthAdjust="spacingAndGlyphs">Adobe Stock</text>
<text transform="translate(890.0,353.5) rotate(-41.5)" textLength="151" lengthAdjust="spacingAndGlyphs">Adobe Stock</text>
<text transform="translate(893.0,683.5) rotate(-41.5)" textLength="151" lengthAdjust="spacingAndGlyphs">Adobe Stock</text>
</g>
<text transform="translate(28.6,593.4) rotate(-90)" font-size="17.6" font-weight="bold" fill="#cfcfe0" opacity="0.82" lengthAdjust="spacingAndGlyphs" textLength="103">Adobe Stock</text>
<text transform="translate(28.6,479.6) rotate(-90)" font-size="17.6" font-weight="bold" fill="#cfcfe0" opacity="0.82" lengthAdjust="spacingAndGlyphs" textLength="4.4">|</text>
<text transform="translate(28.6,467.6) rotate(-90)" font-size="17.6" font-weight="bold" fill="#cfcfe0" opacity="0.82" lengthAdjust="spacingAndGlyphs" textLength="88.4">#496111885</text>
</svg>
</body></html>
